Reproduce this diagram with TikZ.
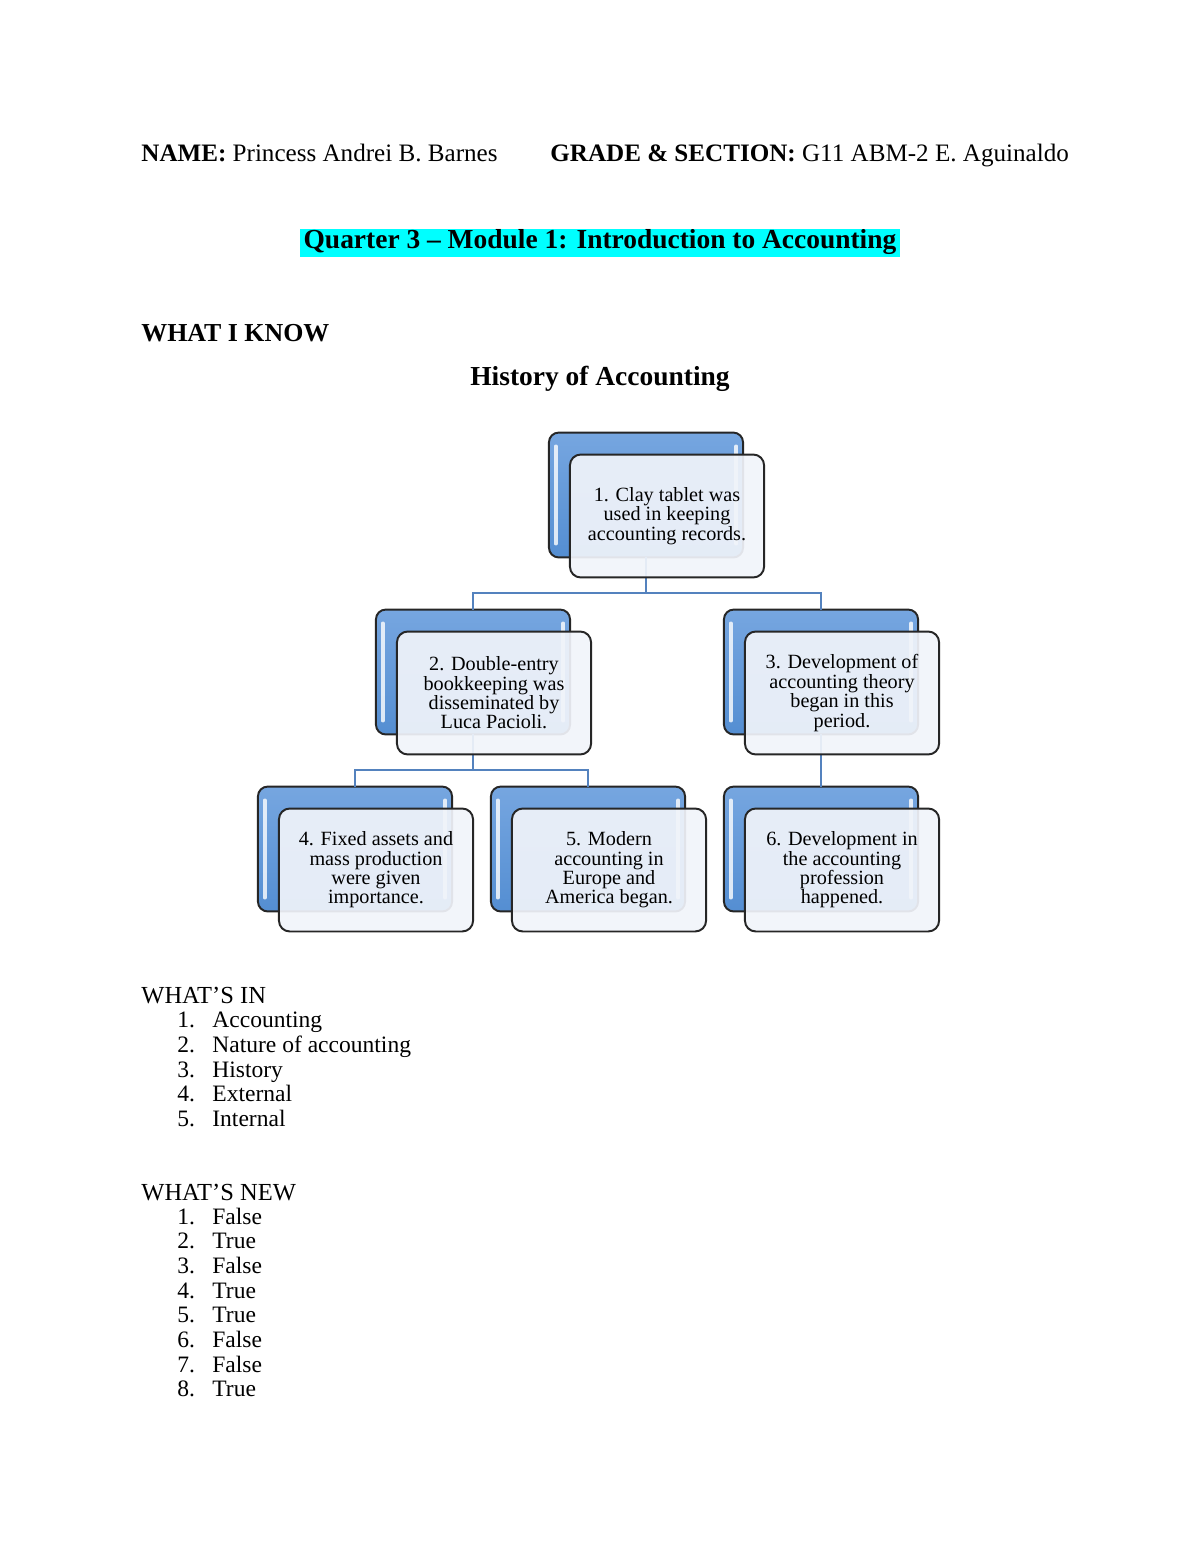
\documentclass[tikz,border=0pt]{standalone}
\usepackage{fontspec}
\setmainfont{Liberation Serif}
\definecolor{boxblue}{RGB}{84,142,210}
\definecolor{boxtop}{RGB}{118,166,224}
\definecolor{linkblue}{RGB}{84,130,190}
\definecolor{frontfill}{RGB}{241,244,250}
\definecolor{hilite}{RGB}{0,255,255}
\begin{document}
\begin{tikzpicture}[x=0.51pt, y=-0.51pt,
    back/.style={draw=black!85, line width=1pt, rounded corners=5pt, top color=boxtop, bottom color=boxblue,
        minimum width=99pt, minimum height=63.7pt, inner sep=0pt, outer sep=0pt},
    front/.style={draw=black!85, line width=1pt, rounded corners=5.5pt, fill=frontfill, fill opacity=0.92,
        text opacity=1, minimum width=99pt, minimum height=62.7pt, inner sep=0pt, outer sep=0pt,
        align=center, font=\fontsize{10.3}{9.9}\selectfont},
    shine/.style={white, line width=1.8pt, line cap=round, opacity=0.8},
    link/.style={linkblue, line width=1pt},
    head/.style={anchor=base west, inner sep=0pt, font=\fontsize{12.8}{15}\selectfont},
    item/.style={anchor=base west, inner sep=0pt, font=\fontsize{12}{14}\selectfont}]
    \useasboundingbox (0,0) rectangle (1200,1553);

    % Header
    \node[head] (name) at (141,162) {\textbf{NAME:} Princess Andrei B. Barnes};
    \node[head] (grade) at (550,162) {\textbf{GRADE \& SECTION:} G11 ABM-2 E. Aguinaldo};
    \node[anchor=base, fill=hilite, inner xsep=2pt, inner ysep=0pt, text height=9.6pt, text depth=4.7pt,
        font=\fontsize{14}{16}\selectfont\bfseries] (title) at (600,248)
        {Quarter 3 -- Module 1: Introduction to Accounting};

    \node[anchor=base west, inner sep=0pt, font=\fontsize{13.2}{15}\selectfont\bfseries] (know) at (141,341) {WHAT I KNOW};
    \node[anchor=base, inner sep=0pt, font=\fontsize{14}{16}\selectfont\bfseries] (hist) at (600,385) {History of Accounting};

    % Blue back boxes
    \foreach \n/\x/\y in {b1/646/495, b2/473/672, b3/821/672, b4/355/849, b5/588/849, b6/821/849} {
        \node[back] (\n) at (\x,\y) {};
        \draw[shine] ([xshift=3.5pt,yshift=-7pt]\n.north west) -- ([xshift=3.5pt,yshift=7pt]\n.south west);
        \draw[shine] ([xshift=-3.5pt,yshift=-7pt]\n.north east) -- ([xshift=-3.5pt,yshift=7pt]\n.south east);
    }

    % Connectors
    \draw[link, line width=1.4pt] (b1.south) -- ++(0,36) coordinate (j1);
    \draw[link] (b2.north) |- (j1) -| (b3.north);
    \draw[link, line width=1.4pt] (b2.south) -- ++(0,36) coordinate (j2);
    \draw[link] (b4.north) |- (j2) -| (b5.north);
    \draw[link] (b3.south) -- (b6.north);

    % Front boxes with the texts
    \foreach \n/\x/\y/\t in {
        f1/646/495/{1. Clay tablet was\\used in keeping\\accounting records.},
        f2/473/672/{2. Double-entry\\bookkeeping was\\disseminated by\\Luca Pacioli.},
        f3/821/672/{3. Development of\\accounting theory\\began in this\\period.},
        f4/355/849/{4. Fixed assets and\\mass production\\were given\\importance.},
        f5/588/849/{5. Modern\\accounting in\\Europe and\\America began.},
        f6/821/849/{6. Development in\\the accounting\\profession\\happened.}} {
        \node[front] (\n) at ({\x+21},{\y+21}) {\t};
    }

    % What's in
    \node[anchor=base west, inner sep=0pt, font=\fontsize{12.5}{15}\selectfont] (whatsin) at (141,1003) {WHAT'S IN};
    \foreach \w [count=\k] in {Accounting, Nature of accounting, History, External, Internal} {
        \node[item] (innum\k) at (177,{1027.5+24.8*(\k-1)}) {\k.};
        \node[item] (in\k) at (212,{1027.5+24.8*(\k-1)}) {\w};
    }

    % What's new
    \node[anchor=base west, inner sep=0pt, font=\fontsize{12.5}{15}\selectfont] (whatsnew) at (141,1200.5) {WHAT'S NEW};
    \foreach \w [count=\k] in {False, True, False, True, True, False, False, True} {
        \node[item] (newnum\k) at (177,{1224+24.67*(\k-1)}) {\k.};
        \node[item] (new\k) at (212,{1224+24.67*(\k-1)}) {\w};
    }
\end{tikzpicture}
\end{document}
